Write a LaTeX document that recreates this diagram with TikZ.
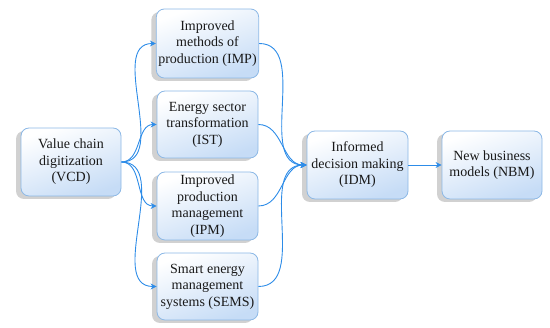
\documentclass[tikz,border=0pt]{standalone}
\usepackage{fontspec}
\setmainfont{Liberation Serif}
\usetikzlibrary{arrows.meta,shadows}
\definecolor{boxline}{RGB}{140,184,230}
\definecolor{boxfill}{RGB}{198,220,246}
\definecolor{arrowc}{RGB}{45,140,232}
\tikzset{
  blk/.style={rectangle, rounded corners=8pt, draw=boxline, line width=0.8pt,
    top color=white, bottom color=boxfill, shading angle=20,
    drop shadow={shadow xshift=-5pt, shadow yshift=-3pt, opacity=0.3, fill=black!60},
    align=center, inner sep=2pt,
    font=\fontsize{14}{16.5}\selectfont, text=black!90},
  conn/.style={draw=arrowc, line width=0.9pt, -{Stealth[length=6pt,width=6pt]}}
}
\begin{document}
\begin{tikzpicture}[x=1pt,y=1pt]
\useasboundingbox (0,0) rectangle (550,328);
\node[blk, minimum width=100pt, minimum height=68pt] (vcd) at (71,166) {Value chain\\digitization\\(VCD)};
\node[blk, minimum width=101pt, minimum height=69pt] (imp) at (207.5,284.5) {Improved\\methods of\\production (IMP)};
\node[blk, minimum width=101pt, minimum height=67pt] (ist) at (207.5,203.5) {Energy sector\\transformation\\(IST)};
\node[blk, minimum width=101pt, minimum height=68pt] (ipm) at (207.5,122) {Improved\\production\\management\\(IPM)};
\node[blk, minimum width=101pt, minimum height=67pt] (sems) at (207.5,41.5) {Smart energy\\management\\systems (SEMS)};
\node[blk, minimum width=101pt, minimum height=68pt] (idm) at (357.5,163) {Informed\\decision making\\(IDM)};
\node[blk, minimum width=100pt, minimum height=68pt] (nbm) at (492,163) {New business\\models (NBM)};
\foreach \t in {imp,ist,ipm,sems}{
  \draw[conn] (vcd.east) to[out=0,in=180] (\t.west);
  \draw[conn] (\t.east) to[out=0,in=180] (idm.west);
}
\draw[conn] (idm.east) -- (nbm.west);
\end{tikzpicture}
\end{document}
